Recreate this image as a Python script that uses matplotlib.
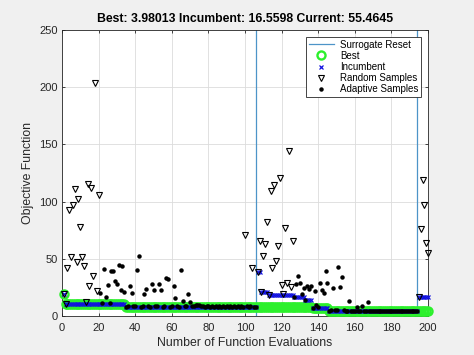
import matplotlib
matplotlib.use("Agg")
import matplotlib.pyplot as plt
import numpy as np

plt.rcParams['font.family'] = ['Liberation Sans', 'DejaVu Sans']

# Random samples (evaluation number, objective value)
random_x = [1, 2, 3, 4, 5, 6, 7, 8, 9, 10, 11, 12, 13, 14, 15, 16, 17, 18, 19, 20,
            100, 104,
            107, 108, 109, 110, 111, 112, 113, 114, 115, 116, 117, 118, 119, 120,
            121, 122, 123, 124, 125, 126,
            195, 196, 197, 198, 199, 200]
random_y = [19.2, 10.8, 41.7, 92.6, 51.9, 97.0, 110.7, 47.0, 102.3, 77.5, 51.3, 44.0,
            12.5, 115.0, 26.2, 111.6, 35.0, 204.0, 22.1, 105.8,
            70.8, 42.2,
            38.8, 65.6, 20.8, 52.4, 62.6, 81.9, 18.6, 109.3, 41.7, 114.8, 48.1, 61.5,
            120.9, 27.1, 19.0, 76.6, 29.1, 144.2, 25.6, 65.6,
            16.5598, 76.0, 118.9, 97.0, 63.5, 55.4645]

# Adaptive samples
adaptive_x = [21, 22, 23, 24, 25, 26, 27, 28, 29, 30, 31, 32, 33, 34, 35, 36, 37, 38,
              39, 40, 41, 42, 43, 44, 45, 46, 47, 48, 49, 50, 51, 52, 53, 54, 55, 56,
              57, 58, 59, 60, 61, 62, 63, 64, 65, 66, 67, 68, 69, 70, 71, 72, 73, 74,
              75, 76, 77, 78, 79, 80, 81, 82, 83, 84, 85, 86, 87, 88, 89, 90, 91, 92,
              93, 94, 95, 96, 97, 98, 99, 101, 102, 103, 105, 106,
              127, 128, 129, 130, 131, 132, 133, 134, 135, 136, 137, 138, 139, 140,
              141, 142, 143, 144, 145, 146, 147, 148, 149, 150, 151, 152, 153, 154,
              155, 156, 157, 158, 159, 160, 161, 162, 163, 164, 165, 166, 167, 168,
              169, 170, 171, 172, 173, 174, 175, 176, 177, 178, 179, 180, 181, 182,
              183, 184, 185, 186, 187, 188, 189, 190, 191, 192, 193, 194]
adaptive_y = [19.8, 11.3, 41.4, 16.3, 27.4, 11.0, 39.3, 39.5, 31.0, 27.8, 44.6, 22.7,
              43.5, 21.4, 8.1, 8.6, 26.3, 20.5, 8.4, 8.9, 39.8, 52.3, 8.3, 8.7, 18.8,
              24.0, 8.5, 8.2, 27.9, 22.9, 8.8, 8.4, 27.9, 23.0, 8.3, 8.6, 33.5, 32.3,
              8.2, 8.9, 26.4, 15.4, 8.4, 8.3, 40.0, 13.2, 8.7, 8.5, 19.1, 12.1, 9.0,
              8.6, 9.6, 9.4, 9.7, 8.8, 8.5, 8.3, 8.6, 8.4, 8.2, 8.5, 8.3, 8.6, 8.2,
              8.4, 8.3, 8.5, 8.2, 8.4, 8.3, 8.6, 8.2, 8.4, 8.3, 8.5, 8.2, 8.4, 8.3,
              8.5, 8.2, 8.4, 8.3, 8.2,
              16.3, 28.0, 34.7, 28.8, 19.5, 24.5, 14.4, 26.4, 24.0, 26.4, 6.7, 22.1,
              9.5, 8.3, 29.1, 22.6, 20.5, 39.6, 29.1, 4.5, 5.2, 24.3, 5.6, 4.9, 42.4,
              25.0, 34.4, 5.1, 3.98013, 4.6, 13.3, 4.4, 4.8, 4.3, 7.9, 4.5, 4.2, 8.5,
              4.6, 4.3, 12.5, 4.4, 4.2, 4.5, 4.3, 4.6, 4.2, 4.4, 4.3, 4.5, 4.2, 4.4,
              4.3, 4.6, 4.2, 4.4, 4.3, 4.5, 4.2, 4.4, 4.3, 4.5, 4.2, 4.4, 4.3, 4.2,
              4.5, 4.3]

reset_x = [106, 194]

# Combine into one evaluation history
evals = np.array(random_x + adaptive_x)
values = np.array(random_y + adaptive_y)
order = np.argsort(evals)
evals = evals[order]
values = values[order]

# Best so far, and incumbent (best since last surrogate reset)
best = np.minimum.accumulate(values)
incumbent = values.copy()
for i in range(1, len(values)):
    if evals[i] - 1 in reset_x:
        incumbent[i] = values[i]
    else:
        incumbent[i] = min(incumbent[i - 1], values[i])

fig = plt.figure(figsize=(4.74, 3.55), dpi=100, facecolor='#f0f0f0')
ax = fig.add_axes([62 / 474, 1 - 316 / 355, (428 - 62) / 474, (316 - 30) / 355])

line_color = '#4d94c8'
for i, rx in enumerate(reset_x):
    ax.axvline(rx, color=line_color, lw=0.9, zorder=2,
               label='Surrogate Reset' if i == 0 else None)

ax.plot(evals, best, 'o', ls='none', ms=5.8, mfc='none', mec='#2cf02c', mew=1.7,
        label='Best', zorder=3, clip_on=False)
ax.plot(evals, incumbent, 'x', ls='none', ms=2.5, color='#1010e0', mew=0.9,
        label='Incumbent', zorder=4, clip_on=False)
ax.plot(random_x, random_y, 'v', ls='none', ms=5, mfc='none', mec='black', mew=0.8,
        label='Random Samples', zorder=5, clip_on=False)
ax.plot(adaptive_x, adaptive_y, 'o', ls='none', ms=2.2, color='black',
        label='Adaptive Samples', zorder=6, clip_on=False)

ax.set_xlim(0, 200)
ax.set_ylim(0, 250)
ax.set_xticks(np.arange(0, 201, 20))
ax.set_yticks(np.arange(0, 251, 50))
ax.grid(True, color='#dcdcdc', lw=0.6)
ax.set_axisbelow(True)
ax.tick_params(direction='in', top=True, right=True, length=2.5, width=0.6,
               labelsize=8, colors='#262626', pad=3)
ax.tick_params(axis='x', pad=5)
for s in ax.spines.values():
    s.set_color('#262626')
    s.set_linewidth(0.6)

ax.set_title('Best: 3.98013 Incumbent: 16.5598 Current: 55.4645',
             fontsize=8.8, fontweight='bold', color='black', pad=6)
ax.set_xlabel('Number of Function Evaluations', fontsize=8.8, color='#262626', labelpad=3)
ax.set_ylabel('Objective Function', fontsize=8.8, color='#262626', labelpad=4)

leg = ax.legend(loc='upper right', fontsize=7, frameon=True, fancybox=False,
                edgecolor='#262626', framealpha=1, borderaxespad=0.7,
                handlelength=2.6, handletextpad=0.6, labelspacing=0.12,
                borderpad=0.3)
leg.get_frame().set_linewidth(0.6)

fig.savefig('out.png', dpi=100, facecolor=fig.get_facecolor())
